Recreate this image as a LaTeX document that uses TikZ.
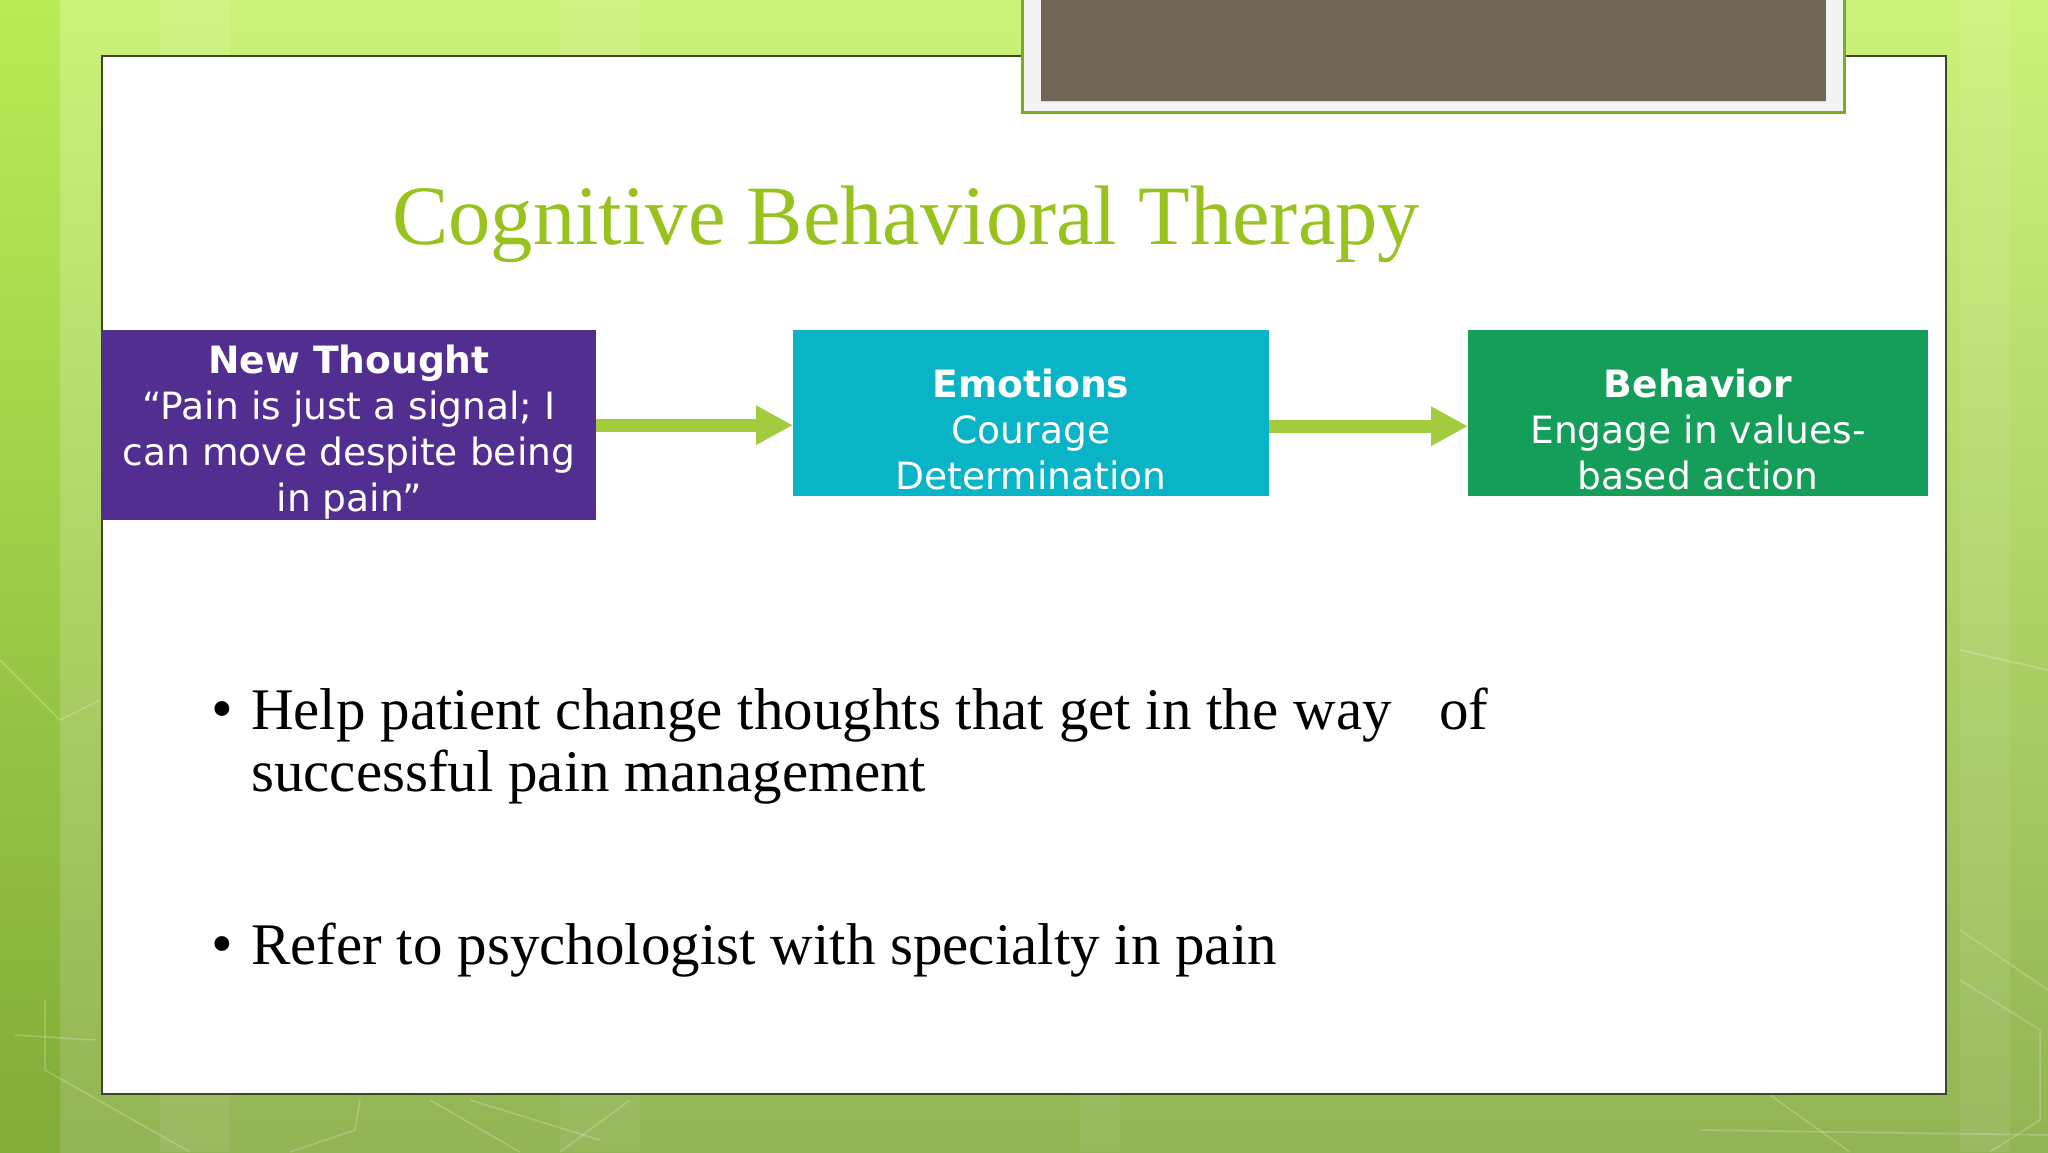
\documentclass[tikz,border=0pt]{standalone}
\usepackage{fontspec}
\setmainfont{Liberation Serif}
\newfontfamily\boxfont{DejaVu Sans}
\usetikzlibrary{arrows.meta}
\definecolor{bgtop}{RGB}{204,242,122}
\definecolor{bgbot}{RGB}{146,180,84}
\definecolor{edgetop}{RGB}{184,236,86}
\definecolor{edgebot}{RGB}{128,172,56}
\definecolor{panelborder}{RGB}{58,72,44}
\definecolor{framegray}{RGB}{243,243,243}
\definecolor{framegreen}{RGB}{122,170,40}
\definecolor{darkbox}{RGB}{112,103,88}
\definecolor{titlegreen}{RGB}{152,195,30}
\definecolor{purplebox}{RGB}{82,46,145}
\definecolor{cyanbox}{RGB}{8,180,198}
\definecolor{greenbox}{RGB}{20,158,90}
\definecolor{arrowgreen}{RGB}{162,204,62}
\tikzset{
  flowbox/.style={draw=none, inner sep=0pt, anchor=north west},
  boxtext/.style={inner sep=0pt, anchor=north, align=center, text=white,
    font=\boxfont\fontsize{37.6}{46}\selectfont},
  flowarrow/.style={draw=arrowgreen, line width=13pt,
    -{Triangle[length=37pt,width=37pt]}},
  bodytext/.style={inner sep=0pt, anchor=base west, font=\fontsize{59}{62}\selectfont},
  bulletdot/.style={inner sep=0pt, anchor=base, font=\fontsize{62}{62}\selectfont},
  bgline/.style={draw=white, opacity=0.22, line width=1.5pt}
}
\begin{document}
\begin{tikzpicture}[x=1pt,y=-1pt]
\useasboundingbox (0,0) rectangle (2048,1152);
% background
\shade[top color=bgtop, bottom color=bgbot] (0,0) rectangle (2048,1152);
\shade[top color=edgetop, bottom color=edgebot] (0,0) rectangle (60,1152);
\fill[white, opacity=0.08] (160,0) rectangle (230,1152);
\fill[white, opacity=0.06] (560,0) rectangle (640,1152);
\fill[white, opacity=0.08] (1960,0) rectangle (2010,1152);
\fill[white, opacity=0.06] (1080,1094) rectangle (1120,1152);
\draw[bgline] (15,1035) -- (95,1040);
\draw[bgline] (45,1000) -- (45,1070) -- (190,1152);
\draw[bgline] (360,1100) -- (355,1130) -- (290,1152);
\draw[bgline] (430,1100) -- (520,1152);
\draw[bgline] (560,1152) -- (630,1100);
\draw[bgline] (470,1100) -- (600,1140);
\draw[bgline] (1700,1130) -- (2048,1135);
\draw[bgline] (1960,930) -- (2048,990);
\draw[bgline] (1960,980) -- (2040,1030) -- (2040,1120) -- (1990,1152);
\draw[bgline] (1770,1095) -- (1850,1152);
\draw[bgline] (0,660) -- (60,720) -- (100,700);
\draw[bgline] (1960,650) -- (2048,670);
% panel
\draw[panelborder, line width=2pt, fill=white] (102,56) rectangle (1946,1094);
% top frame
\fill[framegray] (1021,-5) rectangle (1845,112);
\draw[framegreen, line width=3pt] (1022,0) -- (1022,112) -- (1844,112) -- (1844,0);
\fill[darkbox] (1041,0) rectangle (1826,101);
\draw[white!85!black, line width=1pt] (1041,101) -- (1826,101);
% title
\node[inner sep=0pt, anchor=base west, text=titlegreen, font=\fontsize{84.5}{90}\selectfont]
  (title) at (392,244) {Cognitive Behavioral Therapy};
% flow boxes
\node[flowbox, fill=purplebox, minimum width=494pt, minimum height=190pt] (p) at (102,330) {};
\node[flowbox, fill=cyanbox, minimum width=476pt, minimum height=166pt] (c) at (793,330) {};
\node[flowbox, fill=greenbox, minimum width=460pt, minimum height=166pt] (g) at (1468,330) {};
\node[boxtext] (pt) at (349,345) {\textbf{New Thought}\\“Pain is just a signal; I\\can move despite being\\in pain”};
\node[boxtext] (ct) at (1031,369) {\textbf{Emotions}\\Courage\\Determination};
\node[boxtext] (gt) at (1698,369) {\textbf{Behavior}\\Engage in values-\\based action};
% arrows
\draw[flowarrow] (p.east) -- (p.east -| c.west);
\draw[flowarrow] ([yshift=-13pt]c.east) -- ([yshift=-13pt]c.east -| g.west);
% bullets
\node[bulletdot] (d1) at (222,729) {\textbullet};
\node[bodytext] (b1) at (251,729) {Help patient change thoughts that get in the way\hspace*{33pt} of};
\node[bodytext] (b1b) at (251,791) {successful pain management};
\node[bulletdot] (d2) at (222,964) {\textbullet};
\node[bodytext] (b2) at (251,964) {Refer to psychologist with specialty in pain};
\end{tikzpicture}
\end{document}
